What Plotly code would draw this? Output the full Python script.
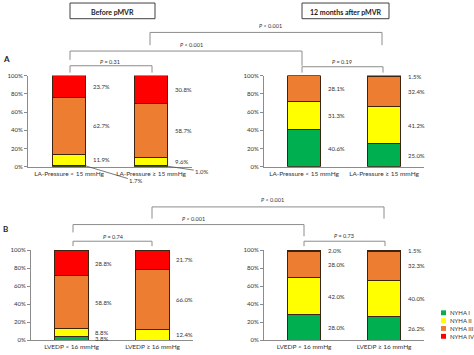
import plotly.graph_objects as go

W, H = 474, 355

# ---------------- data ----------------
classes = ["NYHA I", "NYHA II", "NYHA III", "NYHA IV"]
class_colors = ["#00B050", "#FFFF00", "#ED7D31", "#FF0000"]

la_categories = ["LA-Pressure < 15 mmHg", "LA-Pressure \u2265 15 mmHg"]
lvedp_categories = ["LVEDP < 16 mmHg", "LVEDP \u2265 16 mmHg"]

# each list: [first group, second group]
la_before_nyha1 = [1.7, 1.0]
la_before_nyha2 = [11.9, 9.6]
la_before_nyha3 = [62.7, 58.7]
la_before_nyha4 = [23.7, 30.8]

la_after_nyha1 = [40.6, 25.0]
la_after_nyha2 = [31.3, 41.2]
la_after_nyha3 = [28.1, 32.4]
la_after_nyha4 = [0.0, 1.5]

lvedp_before_nyha1 = [3.8, 0.0]
lvedp_before_nyha2 = [8.8, 12.4]
lvedp_before_nyha3 = [58.8, 66.0]
lvedp_before_nyha4 = [28.8, 21.7]

lvedp_after_nyha1 = [28.0, 26.2]
lvedp_after_nyha2 = [42.0, 40.0]
lvedp_after_nyha3 = [28.0, 32.3]
lvedp_after_nyha4 = [2.0, 1.5]

y_tick_values = [0, 20, 40, 60, 80, 100]
y_tick_labels = ["0%", "20%", "40%", "60%", "80%", "100%"]

header_texts = ["Before pMVR", "12 months after pMVR"]
p_texts_a = ["P < 0.001", "P < 0.001", "P = 0.31", "P = 0.19"]
p_texts_b = ["P < 0.001", "P < 0.001", "P = 0.74", "P = 0.73"]

# ---------------- layout helpers ----------------
FONT = "Lato, 'Open Sans', sans-serif"
TXT = "#333333"
LINE = "#8c8c8c"


def px(x):
    return x / W


def py(y):
    return 1 - y / H


panels = [
    dict(cats=la_categories,
         data=[la_before_nyha1, la_before_nyha2, la_before_nyha3, la_before_nyha4],
         xr=(28, 192), yr=(166, 73)),
    dict(cats=la_categories,
         data=[la_after_nyha1, la_after_nyha2, la_after_nyha3, la_after_nyha4],
         xr=(264, 424), yr=(166, 73)),
    dict(cats=lvedp_categories,
         data=[lvedp_before_nyha1, lvedp_before_nyha2, lvedp_before_nyha3, lvedp_before_nyha4],
         xr=(31, 193), yr=(343, 251)),
    dict(cats=lvedp_categories,
         data=[lvedp_after_nyha1, lvedp_after_nyha2, lvedp_after_nyha3, lvedp_after_nyha4],
         xr=(264, 424), yr=(343, 251)),
]

# leader-line labels (panel, bar, class) -> pixel offset of the text
leaders = {(0, 0, 0): (50, 15), (0, 1, 0): (34, 5)}

fig = go.Figure()
annotations = []
shapes = []

for p, pan in enumerate(panels):
    sfx = "" if p == 0 else str(p + 1)
    xa, ya = "x" + sfx, "y" + sfx
    totals = [sum(pan["data"][c][b] for c in range(4)) for b in range(2)]
    norm = [[pan["data"][c][b] / totals[b] * 100 for b in range(2)] for c in range(4)]
    for c in range(4):
        fig.add_trace(go.Bar(
            x=[0, 1], y=norm[c], name=classes[c],
            marker=dict(color=class_colors[c], line=dict(color="#3d2410", width=1)),
            width=0.41, xaxis=xa, yaxis=ya, showlegend=False,
            hoverinfo="skip",
        ))
    # value labels
    for b in range(2):
        base = 0
        for c in range(4):
            v = pan["data"][c][b]
            nv = norm[c][b]
            mid = base + nv / 2
            base += nv
            if v <= 0:
                continue
            label = f"{v:.1f}%"
            if (p, b, c) in leaders:
                axo, ayo = leaders[(p, b, c)]
                annotations.append(dict(
                    x=b + 0.205, y=mid, xref=xa, yref=ya, text=label,
                    showarrow=True, arrowhead=0, arrowwidth=0.8, arrowcolor="#555555",
                    ax=axo, ay=ayo, standoff=0, startstandoff=0,
                    font=dict(size=6, color=TXT, family=FONT)))
            else:
                annotations.append(dict(
                    x=b + 0.27, y=mid, xref=xa, yref=ya, text=label,
                    showarrow=False, xanchor="left", yanchor="middle",
                    font=dict(size=6, color=TXT, family=FONT)))

    x0, x1 = pan["xr"]
    yb, yt = pan["yr"]
    fig.layout["xaxis" + sfx] = dict(
        domain=[px(x0), px(x1)], anchor=ya, range=[-0.5, 1.5],
        tickmode="array", tickvals=[0, 1], ticktext=pan["cats"],
        showline=True, linecolor=LINE, linewidth=1, ticks="",
        showgrid=False, zeroline=False, fixedrange=True,
        tickfont=dict(size=6.5, color=TXT, family=FONT))
    fig.layout["yaxis" + sfx] = dict(
        domain=[py(yb), py(yt)], anchor=xa, range=[0, 100],
        tickmode="array", tickvals=y_tick_values, ticktext=y_tick_labels,
        showline=True, linecolor=LINE, linewidth=1, ticks="outside",
        ticklen=3, tickcolor=LINE, showgrid=False, zeroline=False,
        fixedrange=True, tickfont=dict(size=6, color=TXT, family=FONT))


def seg(x0, y0, x1, y1):
    shapes.append(dict(type="line", xref="paper", yref="paper",
                       x0=px(x0), y0=py(y0), x1=px(x1), y1=py(y1),
                       line=dict(color=LINE, width=1)))


def bracket(xl, xr, y, yl, yr):
    seg(xl, y, xr, y)
    seg(xl, y, xl, yl)
    seg(xr, y, xr, yr)


def ptext(x, y, t):
    parts = t.split(" ", 1)
    annotations.append(dict(
        x=px(x), y=py(y), xref="paper", yref="paper",
        text=f"<i>{parts[0]}</i> {parts[1]}", showarrow=False,
        xanchor="center", yanchor="middle",
        font=dict(size=5.5, color=TXT, family=FONT)))


# ---- section A brackets ----
bracket(150, 382, 29, 42, 42)
ptext(270, 22, p_texts_a[0])
bracket(70, 302, 48, 57, 63)
ptext(191, 42, p_texts_a[1])
bracket(70, 152, 63, 70, 70)
ptext(110, 59, p_texts_a[2])
bracket(302, 383, 64, 70, 70)
ptext(342, 59, p_texts_a[3])

# ---- section B brackets ----
bracket(152, 384, 207, 219, 219)
ptext(272, 200, p_texts_b[0])
bracket(73, 304, 225, 233, 237)
ptext(193, 219, p_texts_b[1])
bracket(73, 152, 242, 247, 247)
ptext(113, 238, p_texts_b[2])
bracket(304, 385, 242, 247, 247)
ptext(344, 237, p_texts_b[3])

# ---- header boxes ----
for (bx0, bx1), t in zip([(70, 155), (302, 389)], header_texts):
    shapes.append(dict(type="rect", xref="paper", yref="paper",
                       x0=px(bx0), x1=px(bx1), y0=py(15), y1=py(-1),
                       line=dict(color="#404040", width=1), fillcolor="white"))
    annotations.append(dict(
        x=px((bx0 + bx1) / 2), y=py(8.5), xref="paper", yref="paper",
        text=f"<b>{t}</b>", showarrow=False, xanchor="center", yanchor="middle",
        font=dict(size=7, color="#222222", family=FONT)))

# ---- panel letters ----
for letter, yy in [("A", 56), ("B", 230)]:
    annotations.append(dict(
        x=px(1), y=py(yy), xref="paper", yref="paper", text=f"<b>{letter}</b>",
        showarrow=False, xanchor="left", yanchor="middle",
        font=dict(size=8, color="#222222", family=FONT)))

# ---- legend ----
for i, (name, col) in enumerate(zip(classes, class_colors)):
    yc = 315 + i * 8
    shapes.append(dict(type="rect", xref="paper", yref="paper",
                       x0=px(441), x1=px(446), y0=py(yc + 2.5), y1=py(yc - 2.5),
                       line=dict(width=0), fillcolor=col))
    annotations.append(dict(
        x=px(447.5), y=py(yc), xref="paper", yref="paper", text=name,
        showarrow=False, xanchor="left", yanchor="middle",
        font=dict(size=6, color=TXT, family=FONT)))

fig.update_layout(
    width=W, height=H, margin=dict(l=0, r=0, t=0, b=0),
    barmode="stack", bargap=0, showlegend=False,
    paper_bgcolor="white", plot_bgcolor="white",
    annotations=annotations, shapes=shapes,
    font=dict(family=FONT, color=TXT),
)

fig.write_html(
    "out.html",
    config={"displayModeBar": False, "staticPlot": True},
    post_script="document.body.style.margin='0';document.body.style.overflow='hidden';",
)
